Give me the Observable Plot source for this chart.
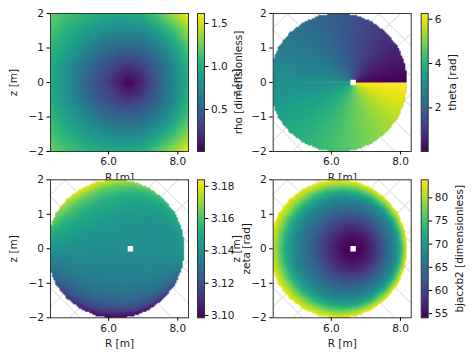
<!DOCTYPE html>
<html><head><meta charset="utf-8">
<script src="https://cdn.jsdelivr.net/npm/d3@7"></script>
<script src="https://cdn.jsdelivr.net/npm/@observablehq/plot@0.6"></script>
<style>html,body{margin:0;padding:0;background:#fff}#c{position:relative;width:474px;height:361px;overflow:hidden}#c svg{position:absolute;left:0;top:0}</style>
</head><body><div id="c"></div>
<script>
const W = 474, H = 361;
const xTicks = [6, 8], zTicks = [-2, -1, 0, 1, 2];
const xDomain = [4.32, 8.31], zDomain = [-2, 2];
const axisR = 6.63;

// rho on a rectangular grid
const rhoR = [4.32, 4.8, 5.3, 5.8, 6.2, 6.6, 7.0, 7.4, 7.9, 8.31];
const rhoZ = [2, 1.5, 1, 0.5, 0, -0.5, -1, -1.5, -2];
const rhoGrid = [
  [1.24, 1.14, 1.06, 1.00, 0.98, 0.98, 1.03, 1.18, 1.40, 1.62],
  [1.16, 1.02, 0.90, 0.82, 0.77, 0.76, 0.79, 0.92, 1.13, 1.37],
  [1.07, 0.92, 0.77, 0.62, 0.55, 0.52, 0.57, 0.68, 0.92, 1.18],
  [1.00, 0.83, 0.62, 0.43, 0.32, 0.27, 0.33, 0.50, 0.78, 1.06],
  [0.98, 0.80, 0.56, 0.36, 0.18, 0.02, 0.20, 0.46, 0.75, 1.02],
  [1.00, 0.83, 0.62, 0.43, 0.32, 0.27, 0.33, 0.50, 0.78, 1.06],
  [1.07, 0.92, 0.77, 0.62, 0.55, 0.52, 0.57, 0.68, 0.92, 1.16],
  [1.16, 1.02, 0.90, 0.82, 0.77, 0.76, 0.79, 0.92, 1.13, 1.35],
  [1.24, 1.14, 1.06, 1.00, 0.98, 0.98, 1.03, 1.18, 1.38, 1.58]
];
// boundary angle, degrees, around the disc
const phiDeg = [0,15,30,45,60,75,90,105,120,135,150,165,180,195,210,225,240,255,270,285,300,315,330,345];
// theta at the edge, for each boundary angle
const thetaUpper = [0.00,0.33,0.64,0.95,1.24,1.51,1.77,2.02,2.25,2.48,2.70,2.92,3.14];
const thetaLower = [3.14,3.36,3.58,3.80,4.03,4.27,4.52,4.77,5.05,5.33,5.64,5.96,6.26];
// fractions along each ray where theta is the same
const raySteps = [0.03, 0.08, 0.15, 0.25, 0.4, 0.55, 0.7, 0.85, 1];
// zeta by ring and boundary angle
const zetaRings = [0.5, 0.75, 0.9, 1];
const zetaCentre = 3.14;
const zeta50 = [3.141,3.141,3.141,3.142,3.143,3.144,3.144,3.145,3.145,3.144,3.143,3.142,3.140,3.139,3.138,3.137,3.136,3.135,3.135,3.135,3.136,3.137,3.138,3.139];
const zeta75 = [3.142,3.142,3.144,3.145,3.147,3.149,3.151,3.152,3.152,3.151,3.148,3.145,3.141,3.138,3.135,3.132,3.130,3.128,3.128,3.128,3.129,3.131,3.135,3.138];
const zeta90 = [3.143,3.145,3.147,3.150,3.154,3.158,3.162,3.164,3.165,3.162,3.156,3.149,3.142,3.135,3.129,3.124,3.120,3.117,3.115,3.116,3.118,3.123,3.129,3.137];
const zeta100 = [3.145,3.148,3.152,3.157,3.163,3.170,3.176,3.180,3.181,3.176,3.167,3.155,3.143,3.132,3.122,3.113,3.106,3.101,3.099,3.100,3.104,3.111,3.122,3.135];
// bjacxb2 by ring
const bjacRings = [0, 0.15, 0.3, 0.45, 0.6, 0.75, 0.85, 0.93, 1];
const bjacValues = [54.3, 54.9, 57.5, 61, 64.8, 68.5, 73.5, 79, 83];
// hatch lines seen behind the discs, R+z and R-z
const hatchSum = [2.3, 3.18, 4.06, 4.94, 5.84, 6.73, 7.61, 8.49, 9.37, 10.25];
const hatchDiff = [1.86, 2.74, 3.62, 4.5, 5.38, 6.0, 6.88, 7.76, 8.64];

const colorbars = [
  {domain: [0.012, 1.616], ticks: [0.5, 1.0, 1.5], fmt: ".1f", label: "rho [dimensionless]", dx: 34},
  {domain: [0.03, 6.26], ticks: [2, 4, 6], fmt: "d", label: "theta [rad]", dx: 24},
  {domain: [3.0986, 3.184], ticks: [3.10, 3.12, 3.14, 3.16, 3.18], fmt: ".2f", label: "zeta [rad]", dx: 42},
  {domain: [54.1, 83.9], ticks: [55, 60, 65, 70, 75, 80], fmt: "d", label: "bjacxb2 [dimensionless]", dx: 31}
];
const frames = [
  {l: 50, t: 13, barL: 197}, {l: 272.7, t: 13, barL: 420.7},
  {l: 50, t: 179.3, barL: 197}, {l: 272.7, t: 179.3, barL: 420.7}
];
const AW = 138, AH = 138, BW = 7;
const txt = {fontFamily: "DejaVu Sans", fontSize: 10.5, fill: "#1a1a1a"};

function surface(s, deg) {
  const a = deg * Math.PI / 180;
  return [6.2 + 0.43 * (1 - s * s) + 2 * s * Math.cos(a), 2 * s * Math.sin(a)];
}
const rhoData = rhoZ.flatMap((z, j) => rhoR.map((R, i) => ({R, z, v: rhoGrid[j][i]})));
function rayData(values, degs) {
  return values.flatMap((v, i) => raySteps.map(s => { const [R, z] = surface(1, degs[i]);
    return {R: axisR + s * (R - axisR), z: s * z, v}; }));
}
const thetaUp = rayData(thetaUpper, phiDeg.slice(0, 13));
const thetaLow = rayData(thetaLower, [...phiDeg.slice(12), 360]);
const zetaTables = [zeta50, zeta75, zeta90, zeta100];
const zetaData = [{R: axisR, z: 0, v: zetaCentre},
  ...zetaRings.flatMap((s, r) => phiDeg.map((d, i) => { const [R, z] = surface(s, d); return {R, z, v: zetaTables[r][i]}; }))];
const bjacData = bjacRings.flatMap((s, r) => (s === 0 ? [0] : phiDeg).map(d => { const [R, z] = surface(s, d); return {R, z, v: bjacValues[r]}; }));

const hatchLines = [
  ...hatchSum.map(c => ({x1: c - 2, y1: 2, x2: c + 2, y2: -2})),
  ...hatchDiff.map(c => ({x1: c - 2, y1: -2, x2: c + 2, y2: 2}))
];

// barycentric inside the samples' hull; nothing is drawn outside it.
// A pixel touching the hull is kept, so the two halves of theta leave no seam.
function hullOnly(index, width, height, X, Y, V) {
  const out = Plot.interpolatorBarycentric()(index, width, height, X, Y, V);
  const hull = d3.polygonHull(Array.from(index, i => [X[i], Y[i]]));
  for (let j = 0, k = 0; j < height; ++j) for (let i = 0; i < width; ++i, ++k) {
    if (!d3.polygonContains(hull, [i + 0.5, j + 0.5])
      && !d3.polygonContains(hull, [i + 0.5, j])
      && !d3.polygonContains(hull, [i + 0.5, j + 1])) out[k] = NaN;
  }
  return out;
}

function panel(idx, rasters, mask) {
  const f = frames[idx], cb = colorbars[idx];
  const ras = rasters.map(d => Plot.raster(d, {x: "R", y: "z", fill: "v", interpolate: mask ? hullOnly : "barycentric", pixelSize: 1.5}));
  const svg = Plot.plot({
    width: W, height: H, marginLeft: f.l, marginRight: W - f.l - AW, marginTop: f.t, marginBottom: H - f.t - AH,
    style: {background: "transparent", overflow: "visible"},
    x: {domain: xDomain, label: null}, y: {domain: zDomain, label: null},
    color: {type: "linear", scheme: "viridis", domain: cb.domain},
    marks: [
      Plot.frame({fill: "white", stroke: "none"}),
      mask ? Plot.link(hatchLines, {x1: "x1", y1: "y1", x2: "x2", y2: "y2", stroke: "#e4e4ea", strokeWidth: 1.2, clip: true}) : null,
      ...ras,
      mask ? Plot.dot([{R: axisR, z: 0}], {x: "R", y: "z", symbol: "square", r: 3.1, fill: "white", stroke: "none"}) : null,
      Plot.frame({stroke: "#333", strokeWidth: 1}),
      Plot.axisX({ticks: xTicks, tickSize: 3.5, tickPadding: 3, label: null, ...txt}),
      Plot.axisY({ticks: zTicks, tickSize: 3.5, tickPadding: 3, tickFormat: d3.format("d"), label: null, ...txt}),
      Plot.text(["R [m]"], {frameAnchor: "bottom", dy: 29, textAnchor: "middle", ...txt}),
      Plot.text(["z [m]"], {frameAnchor: "left", dx: -37, rotate: -90, textAnchor: "middle", ...txt})
    ]
  });
  document.getElementById("c").appendChild(svg);
  const bar = Plot.plot({
    width: W, height: H, marginLeft: f.barL, marginRight: W - f.barL - BW, marginTop: f.t, marginBottom: H - f.t - AH,
    style: {background: "transparent", overflow: "visible"},
    x: {domain: [0, 1], axis: null}, y: {domain: cb.domain, label: null, axis: null},
    color: {type: "linear", scheme: "viridis", domain: cb.domain},
    marks: [
      Plot.raster({fill: (x, y) => y, pixelSize: 1, x1: 0, x2: 1, y1: cb.domain[0], y2: cb.domain[1]}),
      Plot.frame({stroke: "#333", strokeWidth: 1}),
      Plot.axisY({anchor: "right", ticks: cb.ticks, tickSize: 3.5, tickPadding: 3, tickFormat: d3.format(cb.fmt), label: null, ...txt}),
      Plot.text([cb.label], {frameAnchor: "right", dx: cb.dx, rotate: -90, textAnchor: "middle", ...txt})
    ]
  });
  document.getElementById("c").appendChild(bar);
}
panel(0, [rhoData], false);
panel(1, [thetaLow, thetaUp], true);
panel(2, [zetaData], true);
panel(3, [bjacData], true);
</script></body></html>
